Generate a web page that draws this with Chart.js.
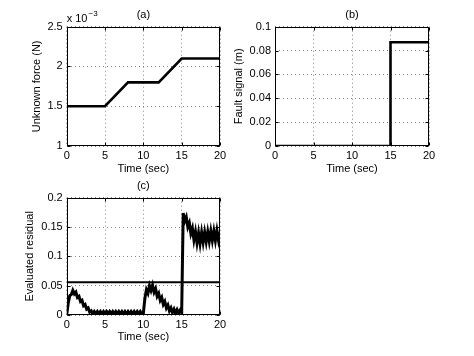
<!DOCTYPE html>
<html><head><meta charset="utf-8">
<script src="https://cdn.jsdelivr.net/npm/chart.js@4/dist/chart.umd.min.js"></script>
<style>
html,body{margin:0;padding:0;background:#fff;}
body{width:474px;height:356px;position:relative;overflow:hidden;}
canvas{position:absolute;}
</style></head><body>
<canvas id="ca" width="240" height="180" style="left:0px;top:0px"></canvas>
<canvas id="cb" width="244" height="180" style="left:230px;top:0px"></canvas>
<canvas id="cc" width="240" height="180" style="left:0px;top:171px"></canvas>
<script>
// ---- data ----
const timeTicks = [0, 5, 10, 15, 20];

// (a) unknown force, in units of 10^-3 N
const forceTime  = [0, 5, 8, 12, 15, 20];
const forceValue = [1.5, 1.5, 1.8, 1.8, 2.1, 2.1];
const forceTicks = [1, 1.5, 2, 2.5];

// (b) fault signal (m)
const faultTime  = [0, 15, 15, 20];
const faultValue = [0, 0, 0.087, 0.087];
const faultTicks = [0, 0.02, 0.04, 0.06, 0.08, 0.1];

// (c) evaluated residual
const residualTime = [0,0.2,0.4,0.6,0.8,1,1.2,1.4,1.6,1.8,2,2.2,2.4,2.6,2.8,3,3.2,3.4,3.6,3.8,
  4,4.2,4.4,4.6,4.8,5,5.2,5.4,5.6,5.8,6,6.2,6.4,6.6,6.8,7,7.2,7.4,7.6,7.8,
  8,8.2,8.4,8.6,8.8,9,9.2,9.4,9.6,9.8,10,10.2,10.4,10.6,10.8,11,11.2,11.4,11.6,11.8,
  12,12.2,12.4,12.6,12.8,13,13.2,13.4,13.6,13.8,14,14.2,14.4,14.6,14.8,15,15.2,15.4,15.6,15.8,
  16,16.2,16.4,16.6,16.8,17,17.2,17.4,17.6,17.8,18,18.2,18.4,18.6,18.8,19,19.2,19.4,19.6,19.8,20];
const residualValue = [0,0.020,0.033,0.035,0.042,0.036,0.039,0.030,0.032,0.023,0.025,0.016,0.018,0.010,0.012,0.005,0.007,0.002,0.006,0.002,
  0.006,0.002,0.006,0.002,0.006,0.002,0.006,0.002,0.006,0.002,0.006,0.002,0.006,0.002,0.006,0.002,0.006,0.002,0.006,0.002,
  0.006,0.002,0.006,0.002,0.006,0.002,0.006,0.002,0.006,0.002,0.003,0.028,0.043,0.037,0.050,0.042,0.051,0.039,0.045,0.032,
  0.037,0.025,0.030,0.018,0.023,0.012,0.017,0.007,0.012,0.004,0.010,0.003,0.009,0.003,0.008,0.004,0.174,0.160,0.167,0.150,
  0.157,0.139,0.148,0.128,0.142,0.123,0.140,0.122,0.141,0.124,0.141,0.125,0.142,0.126,0.143,0.127,0.143,0.127,0.144,0.128,0.142];
const thresholdTime  = [0, 20];
const thresholdValue = [0.056, 0.056];
const residualTicks = [0, 0.05, 0.1, 0.15, 0.2];

// ---- setup ----
Chart.defaults.font.family = "'Liberation Sans', Arial, Helvetica, sans-serif";
Chart.defaults.font.size = 11;
Chart.defaults.color = '#000';

const pts = (xs, ys) => xs.map((x, i) => ({x: x, y: ys[i]}));
const fmt = v => String(Math.round(v * 10000) / 10000);

const boxPlugin = {
  id: 'matlabBox',
  afterDatasetsDraw(chart) {
    const {ctx, chartArea: a, scales: {x, y}} = chart;
    ctx.save();
    ctx.strokeStyle = '#000';
    ctx.lineWidth = 1;
    const l = Math.round(a.left) + 0.5, t = Math.round(a.top) + 0.5;
    const r = Math.round(a.right) - 0.5, b = Math.round(a.bottom) - 0.5;
    ctx.strokeRect(l, t, r - l, b - t);
    ctx.beginPath();
    x.ticks.forEach(tk => {
      const px = Math.round(x.getPixelForValue(tk.value)) + 0.5;
      ctx.moveTo(px, b); ctx.lineTo(px, b - 3);
      ctx.moveTo(px, t); ctx.lineTo(px, t + 3);
    });
    y.ticks.forEach(tk => {
      const py = Math.round(y.getPixelForValue(tk.value)) + 0.5;
      ctx.moveTo(l, py); ctx.lineTo(l + 3, py);
      ctx.moveTo(r, py); ctx.lineTo(r - 3, py);
    });
    ctx.stroke();
    ctx.restore();
  }
};

const exponentPlugin = {
  id: 'exponent',
  afterDraw(chart) {
    const {ctx, chartArea: a} = chart;
    ctx.save();
    ctx.fillStyle = '#000';
    ctx.textBaseline = 'alphabetic';
    ctx.textAlign = 'left';
    ctx.font = "11px 'Liberation Sans', Arial, sans-serif";
    const base = 'x 10';
    ctx.fillText(base, a.left, a.top - 5);
    const w = ctx.measureText(base).width;
    ctx.font = "8px 'Liberation Sans', Arial, sans-serif";
    ctx.fillText('\u22123', a.left + w + 1, a.top - 11);
    ctx.restore();
  }
};

function makeConfig(o) {
  return {
    type: 'line',
    data: { datasets: o.datasets },
    options: {
      responsive: false,
      animation: false,
      devicePixelRatio: 1,
      layout: { padding: { left: 0, right: o.padRight, top: 0, bottom: o.padBottom } },
      plugins: {
        legend: { display: false },
        tooltip: { enabled: false },
        title: { display: false }
      },
      elements: { point: { radius: 0 }, line: { tension: 0 } },
      scales: {
        top: {
          type: 'linear', position: 'top', min: 0, max: 20,
          afterFit: s => { s.height = 26.7; },
          ticks: { display: false },
          grid: { display: false, drawTicks: false },
          border: { display: false },
          title: { display: true, text: o.title, font: { size: 11 }, padding: { top: 8.4, bottom: 0 } }
        },
        x: {
          type: 'linear', position: 'bottom', min: 0, max: 20,
          afterBuildTicks: s => { s.ticks = timeTicks.map(v => ({ value: v })); },
          afterFit: s => { s.height = 32; },
          ticks: { padding: 3, maxRotation: 0, autoSkip: false, callback: v => fmt(v), font: { size: 11 } },
          grid: { color: '#8a8a8a', lineWidth: 1, drawTicks: false },
          border: { display: false, dash: [1, 3] },
          title: { display: true, text: 'Time (sec)', font: { size: 11 }, padding: { top: 0, bottom: o.xTitlePad } }
        },
        y: {
          type: 'linear', position: 'left', min: o.yMin, max: o.yMax,
          afterBuildTicks: s => { s.ticks = o.yTicks.map(v => ({ value: v })); },
          afterFit: s => { s.width = o.yWidth; },
          ticks: { padding: 4, autoSkip: false, callback: v => fmt(v), font: { size: 11 } },
          grid: { color: '#8a8a8a', lineWidth: 1, drawTicks: false },
          border: { display: false, dash: [1, 3] },
          title: { display: true, text: o.yTitle, font: { size: 11 }, padding: { top: o.yTitlePad, bottom: 0 } }
        }
      }
    },
    plugins: o.plugins
  };
}

new Chart(document.getElementById('ca'), makeConfig({
  title: '(a)',
  datasets: [{ data: pts(forceTime, forceValue), borderColor: '#000', borderWidth: 2.6, fill: false }],
  yMin: 1, yMax: 2.5, yTicks: forceTicks, yTitle: 'Unknown force (N)',
  yWidth: 66.7, yTitlePad: 30, padRight: 20, padBottom: 2, xTitlePad: 2.4,
  plugins: [boxPlugin, exponentPlugin]
}));

new Chart(document.getElementById('cb'), makeConfig({
  title: '(b)',
  datasets: [{ data: pts(faultTime, faultValue), borderColor: '#000', borderWidth: 2.6, fill: false }],
  yMin: 0, yMax: 0.1, yTicks: faultTicks, yTitle: 'Fault signal (m)',
  yWidth: 45, yTitlePad: 2.4, padRight: 45, padBottom: 2, xTitlePad: 2.4,
  plugins: [boxPlugin]
}));

new Chart(document.getElementById('cc'), makeConfig({
  title: '(c)',
  datasets: [
    { data: pts(residualTime, residualValue), borderColor: '#000', borderWidth: 3, fill: false },
    { data: pts(thresholdTime, thresholdValue), borderColor: '#000', borderWidth: 2, fill: false }
  ],
  yMin: 0, yMax: 0.2, yTicks: residualTicks, yTitle: 'Evaluated residual',
  yWidth: 66.7, yTitlePad: 23.4, padRight: 20, padBottom: 4, xTitlePad: 3.7,
  plugins: [boxPlugin]
}));
</script>
</body></html>
